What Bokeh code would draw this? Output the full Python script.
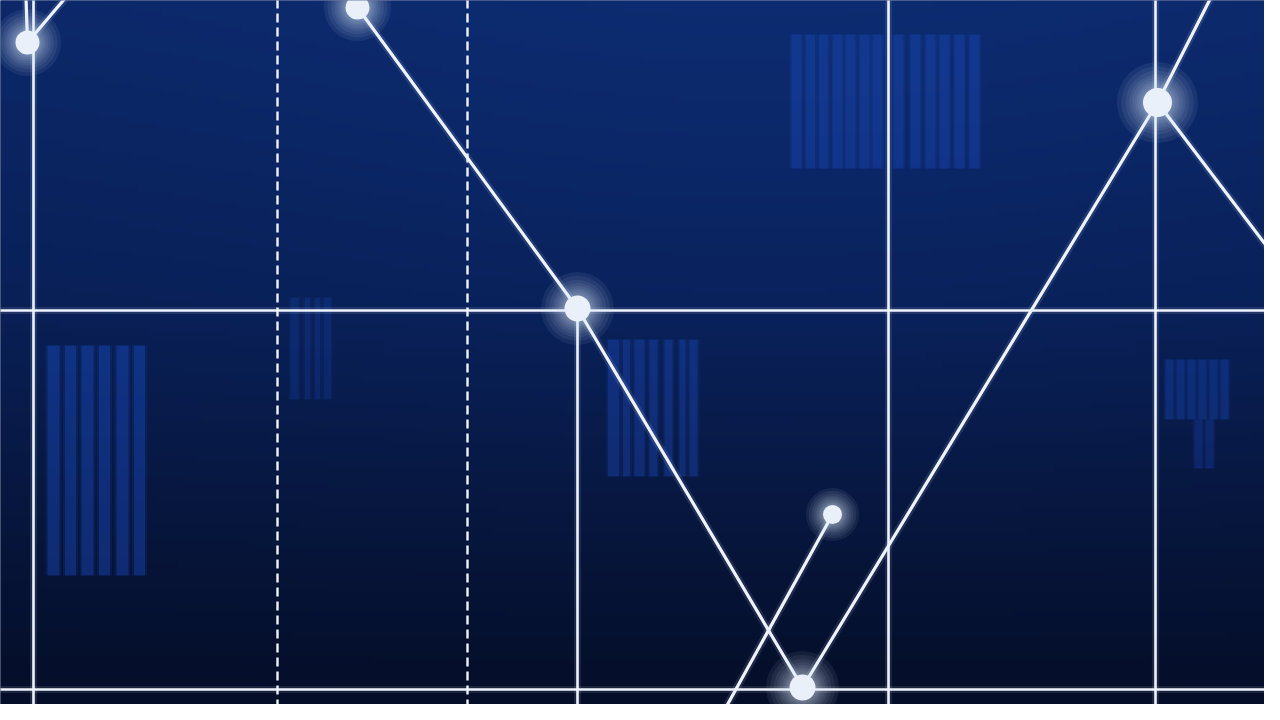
import numpy as np
from bokeh.plotting import figure
from bokeh.models import Range1d
from bokeh.embed import file_html
from bokeh.resources import INLINE

# ---------------- data (x in px-like units, y as value = 720 - screen y) ----------------
# solid vertical guides: x, from-y, to-y (value units)
solid_v_x = [41, 896, 1163, 585]
solid_v_y0 = [-10, -10, -10, -10]
solid_v_y1 = [730, 730, 730, 402]
# dashed vertical guides
dashed_v_x = [285, 475]
# horizontal guides (value units)
hline_y = [402, 23]

# main polyline
main_x = [365, 585, 810, 1165, 1222]
main_y = [705, 404, 25, 610, 722]
# branch lines
branch1_x = [1165, 1292]
branch1_y = [610, 443]
branch2_x = [840, 724]
branch2_y = [198, -12]
branch3_x = [35, 86]
branch3_y = [670, 730]
branch4_x = [35, 33]
branch4_y = [670, 730]

# glowing points
pt_x = [35, 365, 585, 840, 810, 1165]
pt_y = [670, 705, 404, 198, 25, 610]
pt_size = [24, 24, 26, 19, 26, 29]

# faint background bar stripes: centers, widths, top/bottom (value units)
bars_x = [804, 818, 831, 845, 858, 872, 885, 906, 923, 938, 952, 967, 982,
          61, 78, 95, 112, 130, 147,
          302, 315, 325, 335,
          621, 634, 647, 661, 676, 690, 701,
          1177, 1188, 1199, 1210, 1221, 1232,
          1206, 1217,
          2]
bars_w = [10, 9, 9, 10, 10, 10, 10, 10, 10, 10, 10, 10, 10,
          12, 11, 12, 11, 12, 11,
          8, 5, 5, 7,
          11, 7, 10, 8, 8, 6, 8,
          8, 8, 8, 8, 8, 8,
          8, 8,
          6]
bars_top = [678] * 13 + [367] * 6 + [415] * 4 + [373] * 7 + [353] * 6 + [293] * 2 + [375]
bars_bot = [544] * 13 + [137] * 6 + [313] * 4 + [236] * 7 + [293] * 6 + [244] * 2 + [310]
bars_alpha = [0.26] * 13 + [0.3] * 6 + [0.16] * 4 + [0.26] * 7 + [0.24] * 6 + [0.2] * 2 + [0.28]

# ---------------- figure ----------------
p = figure(width=1264, height=704, x_range=Range1d(8, 1272), y_range=Range1d(8, 712),
           output_backend="svg", toolbar_location=None, min_border=0)
p.axis.visible = False
p.grid.visible = False
p.outline_line_color = None
p.background_fill_color = "#0a2258"
p.border_fill_color = "#0a2258"

# background gradient (style only)
GW, GH = 256, 144
yy = np.linspace(0, 1, GH)[:, None]
xx = np.linspace(0, 1, GW)[None, :]
top = np.array([12, 40, 104], float)
mid = np.array([9, 31, 84], float)
bot = np.array([5, 14, 40], float)
t = np.clip(yy, 0, 1)
col = np.where(t[..., None] > 0.55,
               mid + (top - mid) * ((t[..., None] - 0.55) / 0.45),
               bot + (mid - bot) * (t[..., None] / 0.55) ** 1.1)
col = col * np.ones((GH, GW, 1))
glow = np.exp(-(((xx - 0.6) / 0.5) ** 2 + ((yy - 0.85) / 0.5) ** 2))[..., None]
col = col + glow * np.array([1, 4, 10])
col = np.clip(col, 0, 255).astype(np.uint8)
img = np.empty((GH, GW), dtype=np.uint32)
view = img.view(dtype=np.uint8).reshape((GH, GW, 4))
view[..., 0] = col[..., 0]
view[..., 1] = col[..., 1]
view[..., 2] = col[..., 2]
view[..., 3] = 255
p.image_rgba(image=[img], x=0, y=0, dw=1280, dh=720)

# faint stripes with soft edges
p.vbar(x=bars_x, width=[w + 4 for w in bars_w], top=bars_top, bottom=bars_bot,
       fill_color="#1f52d0", fill_alpha=[a * 0.45 for a in bars_alpha], line_color=None)
p.vbar(x=bars_x, width=bars_w, top=bars_top, bottom=bars_bot,
       fill_color="#1f52d0", fill_alpha=bars_alpha, line_color=None)

LINE = "#eef3ff"
# guide lines with soft glow
for w, a in [(7, 0.10), (2.6, 1.0)]:
    p.segment(x0=solid_v_x, y0=solid_v_y0, x1=solid_v_x, y1=solid_v_y1,
              line_color=LINE, line_width=w, line_alpha=a)
    p.segment(x0=[-10] * len(hline_y), y0=hline_y, x1=[1290] * len(hline_y), y1=hline_y,
              line_color=LINE, line_width=w, line_alpha=a)
p.segment(x0=dashed_v_x, y0=[-10] * 2, x1=dashed_v_x, y1=[730] * 2,
          line_color=LINE, line_width=2.4, line_dash="9 5")

# data lines with glow
for xs, ys in [(main_x, main_y), (branch1_x, branch1_y), (branch2_x, branch2_y),
               (branch3_x, branch3_y), (branch4_x, branch4_y)]:
    p.line(xs, ys, line_color="#cfe0ff", line_width=8, line_alpha=0.12)
    p.line(xs, ys, line_color=LINE, line_width=3.2)

# glowing points: many faint layers for a soft halo
for k in [2.8, 2.5, 2.2, 1.95, 1.75, 1.55, 1.4, 1.25, 1.12]:
    p.scatter(pt_x, pt_y, size=[s * k for s in pt_size], fill_color="#e4eeff",
              fill_alpha=0.07, line_color=None)
p.scatter(pt_x, pt_y, size=pt_size, fill_color="#eaf0fa", line_color=None)

open("out.html", "w").write(file_html(p, INLINE))
